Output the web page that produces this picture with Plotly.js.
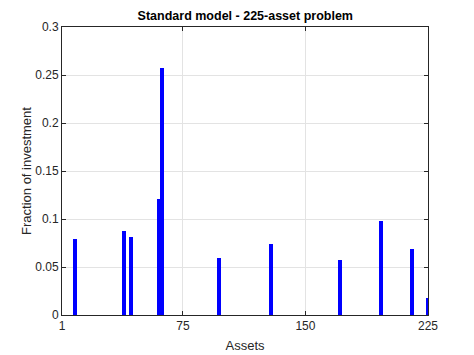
<!DOCTYPE html>
<html>
<head>
<meta charset="utf-8">
<script src="https://cdn.plot.ly/plotly-3.0.1.min.js"></script>
<style>html,body{margin:0;padding:0;background:#fff;}#chart{width:474px;height:355px;}</style>
</head>
<body>
<div id="chart"></div>
<script>
var assets = [9, 39, 43, 60, 62, 97, 129, 171, 196, 215, 225];
var fractions = [0.079, 0.087, 0.081, 0.1205, 0.2572, 0.059, 0.074, 0.0575, 0.0977, 0.0686, 0.018];
var xTicks = [1, 75, 150, 225];
var yTicks = [0, 0.05, 0.1, 0.15, 0.2, 0.25, 0.3];
var yTickLabels = ['0', '0.05', '0.1', '0.15', '0.2', '0.25', '0.3'];

var trace = {
  type: 'bar',
  x: assets,
  y: fractions,
  width: 2.3,
  marker: {color: '#0000ff', line: {width: 0}},
  hoverinfo: 'x+y'
};

var axisCommon = {
  showline: true,
  mirror: 'ticks',
  linecolor: '#262626',
  linewidth: 1,
  ticks: 'inside',
  ticklen: 4,
  tickcolor: '#262626',
  showgrid: true,
  gridcolor: '#e3e3e3',
  gridwidth: 1,
  zeroline: false,
  tickfont: {family: 'Liberation Sans, Arial, sans-serif', size: 12, color: '#262626'}
};

var layout = {
  width: 474,
  height: 355,
  margin: {l: 62, r: 46, t: 27, b: 40},
  paper_bgcolor: '#ffffff',
  plot_bgcolor: '#ffffff',
  showlegend: false,
  bargap: 0,
  title: {
    text: '<b>Standard model - 225-asset problem</b>',
    font: {family: 'Liberation Sans, Arial, sans-serif', size: 12.5, color: '#000000'},
    x: 0.5175, xanchor: 'center', y: 0.957, yanchor: 'middle'
  },
  xaxis: Object.assign({}, axisCommon, {
    range: [1, 225],
    tickmode: 'array',
    tickvals: xTicks,
    ticktext: xTicks.map(String),
    title: {text: 'Assets', font: {family: 'Liberation Sans, Arial, sans-serif', size: 13, color: '#262626'}, standoff: 8}
  }),
  yaxis: Object.assign({}, axisCommon, {
    range: [0, 0.3],
    tickmode: 'array',
    tickvals: yTicks,
    ticktext: yTickLabels,
    title: {text: 'Fraction of investment', font: {family: 'Liberation Sans, Arial, sans-serif', size: 13, color: '#262626'}, standoff: 0}
  })
};

Plotly.newPlot('chart', [trace], layout, {displayModeBar: false, staticPlot: true});
</script>
</body>
</html>
